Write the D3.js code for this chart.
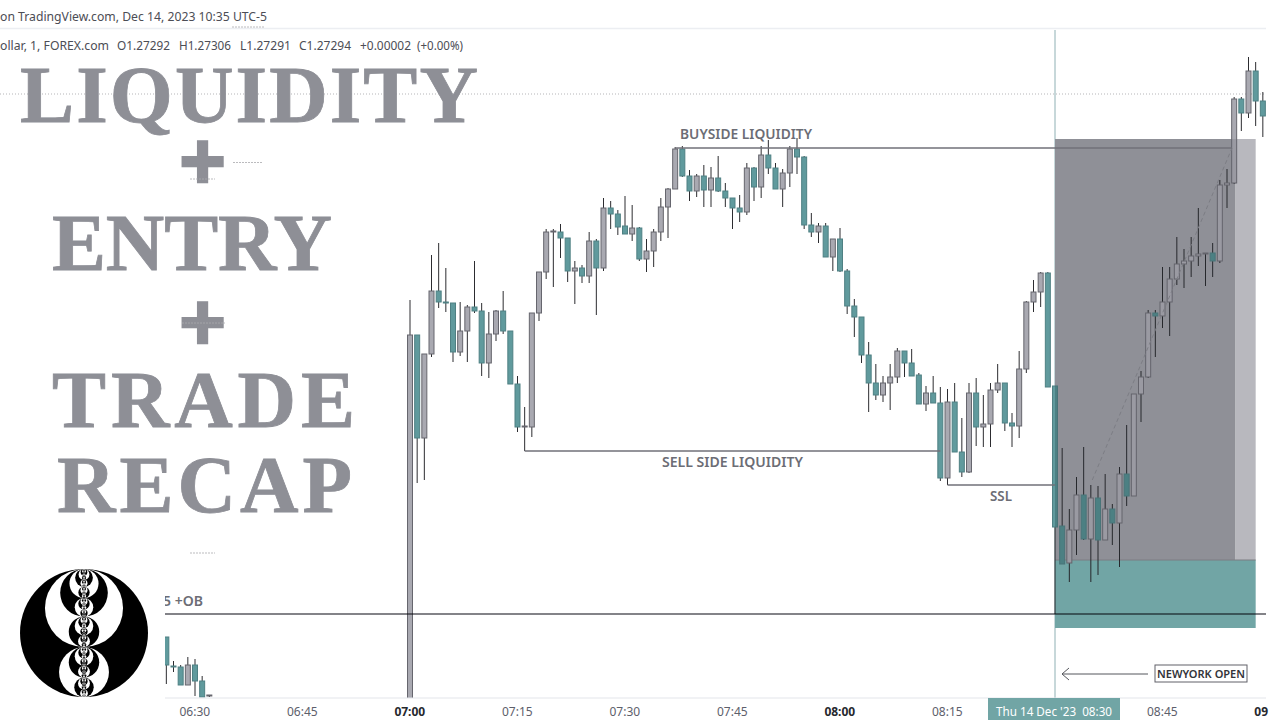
<!DOCTYPE html>
<html>
<head>
<meta charset="utf-8">
<script src="https://d3js.org/d3.v7.min.js"></script>
<style>
  html, body { margin: 0; padding: 0; background: #fff; overflow: hidden; }
  svg { display: block; }
</style>
</head>
<body>
<div id="chart"></div>
<script>
// Prices are in points above 1.26000 (1294 = 1.27294), one candle per minute
const earlyMinutes = d3.range(386, 393); // 06:26 - 06:32
const mainMinutes = d3.range(420, 540); // 07:00 - 08:59

const earlyOpens = [751, 722, 721, 703, 723, 707, 692];
const earlyHighs = [751, 727, 723, 731, 729, 712, 693];
const earlyLows = [704, 716, 703, 703, 692, 691, 691];
const earlyCloses = [723, 721, 703, 723, 707, 691, 693];

const opens = [
  668, 1053, 950, 1034, 1097, 1086, 1085, 1036, 1057, 1081, 1077, 1025, 1054, 1077, 1057, 1004, 961, 961, 1075, 1116,
  1156, 1156, 1150, 1117, 1120, 1112, 1147, 1120, 1180, 1174, 1162, 1154, 1160, 1129, 1137, 1156, 1181, 1199, 1239, 1212,
  1197, 1212, 1198, 1210, 1197, 1190, 1180, 1176, 1220, 1201, 1233, 1220, 1199, 1215, 1239, 1231, 1163, 1156, 1162, 1131,
  1149, 1117, 1082, 1071, 1033, 1005, 993, 1005, 1011, 1037, 1025, 1013, 984, 995, 985, 910, 986, 936, 916, 995,
  961, 964, 998, 1005, 965, 962, 1019, 1086, 1096, 1115, 1002, 862, 825, 858, 893, 849, 890, 848, 879, 865,
  914, 892, 994, 1011, 1075, 1072, 1086, 1109, 1124, 1127, 1132, 1134, 1135, 1127, 1203, 1205, 1289, 1275, 1317, 1287,
];
const highs = [
  1088, 1053, 1034, 1133, 1145, 1120, 1085, 1086, 1083, 1127, 1085, 1076, 1078, 1097, 1057, 1012, 981, 1075, 1116, 1159,
  1159, 1164, 1150, 1127, 1123, 1156, 1149, 1190, 1187, 1178, 1192, 1183, 1161, 1149, 1159, 1190, 1200, 1241, 1242, 1218,
  1214, 1223, 1221, 1232, 1205, 1190, 1193, 1225, 1221, 1242, 1248, 1225, 1219, 1242, 1250, 1232, 1175, 1165, 1165, 1149,
  1160, 1119, 1089, 1071, 1046, 1024, 1012, 1024, 1040, 1037, 1039, 1015, 1002, 1012, 1001, 999, 1005, 970, 1005, 1010,
  993, 1005, 1024, 1005, 975, 1037, 1087, 1108, 1116, 1116, 1002, 940, 879, 911, 941, 903, 902, 914, 884, 921,
  963, 994, 1017, 1078, 1078, 1121, 1121, 1151, 1139, 1151, 1180, 1135, 1145, 1208, 1219, 1291, 1291, 1331, 1326, 1296,
];
const lows = [
  668, 905, 908, 1031, 1080, 1076, 1026, 1032, 1026, 1075, 1012, 1010, 1047, 1054, 1004, 956, 937, 951, 1067, 1109,
  1101, 1130, 1106, 1084, 1105, 1105, 1073, 1117, 1159, 1153, 1154, 1147, 1127, 1116, 1121, 1147, 1150, 1199, 1211, 1187,
  1191, 1181, 1181, 1196, 1181, 1159, 1166, 1173, 1187, 1190, 1214, 1199, 1181, 1201, 1214, 1159, 1151, 1145, 1131, 1117,
  1116, 1074, 1051, 1025, 976, 988, 986, 978, 1005, 1011, 1012, 984, 977, 985, 907, 903, 936, 911, 915, 942,
  941, 941, 995, 957, 941, 950, 1015, 1076, 1081, 1001, 774, 824, 806, 833, 848, 806, 813, 848, 843, 821,
  882, 892, 966, 1010, 1031, 1060, 1052, 1103, 1100, 1111, 1122, 1102, 1111, 1125, 1180, 1204, 1257, 1270, 1262, 1251,
];
const closes = [
  1053, 950, 1034, 1097, 1086, 1085, 1036, 1057, 1081, 1077, 1025, 1054, 1077, 1057, 1004, 961, 962, 1075, 1116, 1156,
  1157, 1150, 1117, 1120, 1112, 1147, 1120, 1180, 1174, 1161, 1154, 1160, 1129, 1137, 1156, 1181, 1199, 1239, 1212, 1197,
  1212, 1198, 1210, 1197, 1190, 1180, 1176, 1220, 1201, 1233, 1220, 1199, 1215, 1239, 1231, 1163, 1156, 1162, 1131, 1149,
  1117, 1082, 1071, 1033, 1005, 993, 1005, 1011, 1037, 1025, 1012, 984, 995, 985, 910, 986, 936, 916, 995, 961,
  964, 998, 1005, 965, 962, 1019, 1086, 1096, 1115, 1001, 861, 824, 858, 893, 849, 890, 848, 879, 865, 914,
  892, 994, 1011, 1075, 1072, 1086, 1109, 1124, 1127, 1132, 1134, 1135, 1127, 1203, 1205, 1289, 1275, 1317, 1287, 1272,
];

const timeTicks = [390, 405, 420, 435, 450, 465, 480, 495, 525, 540];
const lastPrice = 1294;

// Horizontal levels drawn on the chart: [from minute, to minute, price]
const levels = [
  [457, 534.7, 1240], // buyside
  [436, 494, 937], // sell side
  [495, 510, 903], // ssl
];
const obLevel = 774;

const titleWords = ["LIQUIDITY", "ENTRY", "TRADE", "RECAP"];
const headerTop = "on TradingView.com, Dec 14, 2023 10:35 UTC-5";
const headerSymbol = "ollar, 1, FOREX.com";
const headerValues = ["O1.27292", "H1.27306", "L1.27291", "C1.27294", "+0.00002", "(+0.00%)"];

const width = 1280;
const height = 720;
const plot = { left: 165, right: 1266, top: 28, bottom: 698 };

const xscale = d3.scaleLinear().domain([390, 540]).range([195, 1270]);
const yscale = d3.scaleLinear().domain([1360, 690]).range([plot.top, plot.bottom]);
const bodyWidth = 5;

const candles = earlyMinutes
  .map((m, i) => ({ m, o: earlyOpens[i], h: earlyHighs[i], l: earlyLows[i], c: earlyCloses[i] }))
  .concat(mainMinutes.map((m, i) => ({ m, o: opens[i], h: highs[i], l: lows[i], c: closes[i] })));

const svg = d3.select("#chart").append("svg").attr("width", width).attr("height", height);
const defs = svg.append("defs");

defs.append("clipPath").attr("id", "plot-clip").append("rect")
  .attr("x", plot.left).attr("y", plot.top)
  .attr("width", plot.right - plot.left).attr("height", plot.bottom - plot.top);

// Zones, in chart terms
const zoneDark = { x0: 510, x1: 535.2, top: 1249, bottom: 828, fill: "#8f9097" };
const zoneLight = { x0: 535.2, x1: 538, top: 1249, bottom: 828, fill: "#b8b8be" };
const zoneTeal = { x0: 510, x1: 538, top: 828, bottom: 760, fill: "#71a5a5" };

defs.append("clipPath").attr("id", "zone-clip").append("rect")
  .attr("x", xscale(510)).attr("y", yscale(1249))
  .attr("width", xscale(538) - xscale(510)).attr("height", yscale(760) - yscale(1249));

svg.append("rect").attr("width", width).attr("height", height).attr("fill", "#fff");

// Top separator and last price line
svg.append("line").attr("x1", 0).attr("x2", plot.right).attr("y1", 28.5).attr("y2", 28.5)
  .attr("stroke", "#eceef2").attr("stroke-width", 1.5);
svg.append("line").attr("x1", 0).attr("x2", plot.right)
  .attr("y1", yscale(lastPrice)).attr("y2", yscale(lastPrice))
  .attr("stroke", "#b5b5b8").attr("stroke-width", 1).attr("stroke-dasharray", "1,2");

const chart = svg.append("g").attr("clip-path", "url(#plot-clip)");

// New York open line
chart.append("line").attr("x1", xscale(510)).attr("x2", xscale(510))
  .attr("y1", 30).attr("y2", plot.bottom)
  .attr("stroke", "#8fb0b4").attr("stroke-width", 1);

function drawCandles(g, colors) {
  const item = g.selectAll("g.candle").data(candles).enter().append("g").attr("class", "candle");
  item.append("line")
    .attr("x1", (d) => xscale(d.m)).attr("x2", (d) => xscale(d.m))
    .attr("y1", (d) => yscale(d.h)).attr("y2", (d) => yscale(d.l))
    .attr("stroke", colors.wick).attr("stroke-width", 1);
  item.append("rect")
    .attr("x", (d) => xscale(d.m) - bodyWidth / 2)
    .attr("y", (d) => yscale(Math.max(d.o, d.c)))
    .attr("width", bodyWidth)
    .attr("height", (d) => Math.max(0.6, Math.abs(yscale(d.o) - yscale(d.c))))
    .attr("fill", (d) => (d.c >= d.o ? colors.up : colors.down))
    .attr("stroke", (d) => (d.c >= d.o ? colors.upEdge : colors.downEdge))
    .attr("stroke-width", 1);
}

drawCandles(chart.append("g"), {
  wick: "#2c2c30", up: "#a9a9b1", upEdge: "#66666e", down: "#609a9d", downEdge: "#4f8083",
});

// Zones sit over the candles, then the same candles again in the muted colours
chart.selectAll("rect.zone").data([zoneDark, zoneLight, zoneTeal]).enter().append("rect")
  .attr("class", "zone")
  .attr("x", (d) => xscale(d.x0)).attr("y", (d) => yscale(d.top))
  .attr("width", (d) => xscale(d.x1) - xscale(d.x0))
  .attr("height", (d) => yscale(d.bottom) - yscale(d.top))
  .attr("fill", (d) => d.fill);

chart.append("line")
  .attr("x1", xscale(510)).attr("x2", xscale(538))
  .attr("y1", yscale(828)).attr("y2", yscale(828))
  .attr("stroke", "#7c7d82").attr("stroke-width", 1);

drawCandles(chart.append("g").attr("clip-path", "url(#zone-clip)"), {
  wick: "#26282c", up: "#9a9aa2", upEdge: "#64646c", down: "#4c8083", downEdge: "#497478",
});

// Faint trade path in the zone
chart.append("line")
  .attr("x1", xscale(515.2)).attr("y1", yscale(908))
  .attr("x2", xscale(534.7)).attr("y2", yscale(1240))
  .attr("stroke", "#7c7d84").attr("stroke-width", 1).attr("stroke-dasharray", "4,3");

// Liquidity levels
chart.selectAll("line.level").data(levels).enter().append("line")
  .attr("class", "level")
  .attr("x1", (d) => xscale(d[0])).attr("x2", (d) => xscale(d[1]))
  .attr("y1", (d) => yscale(d[2])).attr("y2", (d) => yscale(d[2]))
  .attr("stroke", "#707078").attr("stroke-width", 1.5);

chart.append("line")
  .attr("x1", plot.left).attr("x2", plot.right)
  .attr("y1", yscale(obLevel)).attr("y2", yscale(obLevel))
  .attr("stroke", "#5a5a60").attr("stroke-width", 1.5)
  .style("mix-blend-mode", "multiply");

// Level labels
const labelFont = "'Noto Sans', sans-serif";
function levelLabel(text, x, y, len) {
  svg.append("text").attr("x", x).attr("y", y)
    .attr("font-family", labelFont).attr("font-size", 13.5).attr("font-weight", 600)
    .attr("fill", "#6c6d75").attr("textLength", len).attr("lengthAdjust", "spacingAndGlyphs")
    .text(text);
}
levelLabel("BUYSIDE LIQUIDITY", 680, 139, 132);
levelLabel("SELL SIDE LIQUIDITY", 662, 467, 141);
levelLabel("SSL", 990, 501, 22);
svg.append("g").attr("clip-path", "url(#plot-clip)").append("text")
  .attr("x", 163).attr("y", 606)
  .attr("font-family", labelFont).attr("font-size", 14).attr("font-weight", 600)
  .attr("fill", "#6c6d75").text("5 +OB");

// New York open note
const arrowY = 674;
svg.append("path")
  .attr("d", `M1148,${arrowY}H1062M1069,${arrowY - 6}L1062,${arrowY}L1069,${arrowY + 6}`)
  .attr("fill", "none").attr("stroke", "#55565c").attr("stroke-width", 1);
svg.append("rect").attr("x", 1155).attr("y", 665).attr("width", 92).attr("height", 17)
  .attr("fill", "#fff").attr("stroke", "#606068").attr("stroke-width", 1);
svg.append("text").attr("x", 1201).attr("y", 677.5).attr("text-anchor", "middle")
  .attr("font-family", labelFont).attr("font-size", 11).attr("font-weight", 600)
  .attr("fill", "#33343a").attr("textLength", 88).attr("lengthAdjust", "spacingAndGlyphs")
  .text("NEWYORK OPEN");

// Time axis
svg.append("line").attr("x1", plot.left).attr("x2", plot.right)
  .attr("y1", plot.bottom).attr("y2", plot.bottom).attr("stroke", "#e3e5ea").attr("stroke-width", 1);

// The last label is cut to its hour at the window edge
const formatMinute = (m) =>
  m === 540 ? "09" : d3.format("02")(Math.floor(m / 60)) + ":" + d3.format("02")(m % 60);
const axis = svg.append("g").attr("transform", `translate(-0.7,${plot.bottom})`)
  .call(d3.axisBottom(xscale).tickValues(timeTicks).tickSize(0).tickPadding(9).tickFormat(formatMinute));
axis.select(".domain").remove();
axis.selectAll("text")
  .attr("font-family", labelFont).attr("font-size", 12).attr("fill", "#5d606b")
  .attr("font-weight", (m) => (m % 60 === 0 ? 700 : 400))
  .style("fill", (m) => (m % 60 === 0 ? "#26282e" : "#5d606b"))
  .attr("text-anchor", (m) => (m === 540 ? "start" : "middle"))
  .attr("x", (m) => (m === 540 ? -15.5 : 0));

// Crosshair time label
svg.append("rect").attr("x", 988).attr("y", plot.bottom).attr("width", 132).attr("height", 22).attr("fill", "#71a5a5");
svg.append("text").attr("x", 1054).attr("y", 716).attr("text-anchor", "middle")
  .attr("font-family", labelFont).attr("font-size", 12).attr("fill", "#fff")
  .attr("xml:space", "preserve").attr("textLength", 116).attr("lengthAdjust", "spacingAndGlyphs")
  .text("Thu 14 Dec '23  08:30");

// Header lines
const headerFont = "'Noto Sans', sans-serif";
svg.append("text").attr("x", 0).attr("y", 21)
  .attr("font-family", headerFont).attr("font-size", 12).attr("fill", "#4c4d55")
  .attr("textLength", 267).attr("lengthAdjust", "spacingAndGlyphs").text(headerTop);
svg.append("text").attr("x", 0).attr("y", 50)
  .attr("font-family", headerFont).attr("font-size", 12).attr("fill", "#4c4d55")
  .attr("textLength", 109).attr("lengthAdjust", "spacingAndGlyphs").text(headerSymbol);
const headerX = [117, 179, 240, 299, 360, 417];
const headerLen = [53, 52, 51, 52, 51, 46];
svg.selectAll("text.hv").data(headerValues).enter().append("text")
  .attr("class", "hv").attr("x", (d, i) => headerX[i]).attr("y", 50)
  .attr("font-family", headerFont).attr("font-size", 12).attr("fill", "#4c4d55")
  .attr("textLength", (d, i) => headerLen[i]).attr("lengthAdjust", "spacingAndGlyphs")
  .text((d) => d);

// Big title
const titleFill = "#8e8f96";
const titleX = [20, 52, 52, 57];
const titleLen = [458, 280, 303, 295];
const titleBase = [122, 270, 427, 512];
svg.selectAll("text.word").data(titleWords).enter().append("text")
  .attr("class", "word")
  .attr("x", (d, i) => titleX[i]).attr("y", (d, i) => titleBase[i])
  .attr("font-family", "'Liberation Serif', serif").attr("font-weight", 700).attr("font-size", 81)
  .attr("fill", titleFill).attr("stroke", titleFill).attr("stroke-width", 0.8)
  .attr("textLength", (d, i) => titleLen[i]).attr("lengthAdjust", "spacing")
  .text((d) => d);

svg.selectAll("text.plus").data([188, 349]).enter().append("text")
  .attr("class", "plus").attr("x", 202.5).attr("y", (d) => d).attr("text-anchor", "middle")
  .attr("font-family", "'Liberation Sans', sans-serif").attr("font-weight", 700).attr("font-size", 79)
  .attr("fill", titleFill).attr("stroke", titleFill).attr("stroke-width", 2.5).text("+");

// Specks of very small text left over in the source image
const specks = [[232, 265, 27], [233, 263, 162.5], [190, 215, 179], [190, 215, 553], [182, 225, 323]];
svg.selectAll("line.speck").data(specks).enter().append("line")
  .attr("class", "speck")
  .attr("x1", (d) => d[0]).attr("x2", (d) => d[1]).attr("y1", (d) => d[2]).attr("y2", (d) => d[2])
  .attr("stroke", "#a9a9ad").attr("stroke-width", 0.8).attr("stroke-dasharray", "2,1");

// Logo: every disc holds two tangent discs of the other colour
const logo = svg.append("g");
const logoSplit = 0.61;
function drawDisc(cx, cy, r, black) {
  logo.append("circle").attr("cx", cx).attr("cy", cy).attr("r", r).attr("fill", black ? "#000" : "#fff");
  if (r < 1.2) return;
  const big = r * logoSplit;
  const small = r - big;
  drawDisc(cx, cy - r + big, big, !black);
  drawDisc(cx, cy + r - small, small, !black);
}
drawDisc(84, 633, 64, true);
</script>
</body>
</html>
